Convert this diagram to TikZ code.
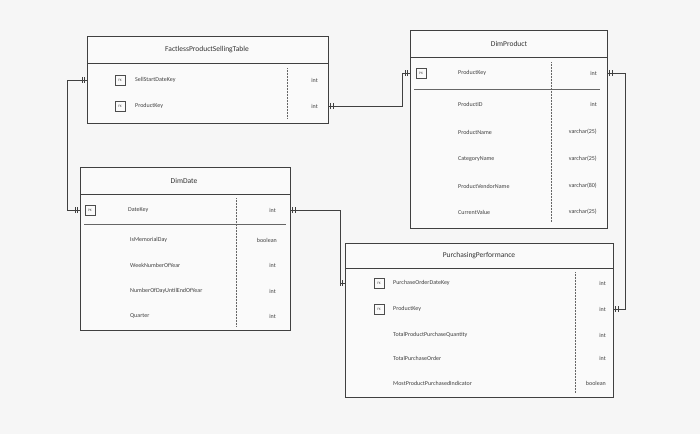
\documentclass[tikz,border=0pt]{standalone}
\usepackage{fontspec}
\setmainfont{Carlito}
\usetikzlibrary{decorations.markings}
\begin{document}
\begin{tikzpicture}[x=1pt,y=-1pt,
  box/.style={draw=black!75,line width=0.6pt},
  ttl/.style={font=\fontsize{7.5}{8}\selectfont,text=black!80},
  fld/.style={font=\fontsize{6}{7}\selectfont,text=black!75,anchor=west,inner sep=0pt},
  typ/.style={font=\fontsize{6}{7}\selectfont,text=black!75,anchor=east,inner sep=0pt},
  key/.style={draw=black!70,line width=0.4pt,font=\fontsize{3.5}{4}\selectfont,text=black!70,minimum width=10pt,minimum height=10pt,inner sep=0pt},
  div/.style={densely dotted,black!60,line width=0.5pt},
  sep/.style={black!60,line width=0.5pt},
  rel/.style={black!75,line width=0.6pt,postaction={decorate},decoration={markings,
    mark=at position 2.5pt with {\draw[line width=0.6pt] (0pt,-3pt) -- (0pt,3pt);},
    mark=at position 5pt with {\draw[line width=0.6pt] (0pt,-3pt) -- (0pt,3pt);},
    mark=at position -2.5pt with {\draw[line width=0.6pt] (0pt,-3pt) -- (0pt,3pt);},
    mark=at position -5pt with {\draw[line width=0.6pt] (0pt,-3pt) -- (0pt,3pt);}}}]
\fill[white!93!gray] (0,0) rectangle (700,434);
\useasboundingbox (0,0) rectangle (700,434);
% Factless
\draw[box,fill=white!96!gray] (87,36) rectangle (328,123);
\draw[box] (87,63) -- (328,63);
\node[ttl] (ft) at (207,50) {FactlessProductSellingTable};
\draw[div] (287,68) -- (287,119);
\node[key] (fk1) at (120,80) {FK};
\node[fld] (f1) at (135,80) {SellStartDateKey};
\node[typ] (f1t) at (318,80) {int};
\node[key] (fk2) at (120,106) {FK};
\node[fld] (f2) at (135,106) {ProductKey};
\node[typ] (f2t) at (318,106) {int};
\coordinate (fL) at (87,80); \coordinate (fR) at (328,106);
% DimProduct
\draw[box,fill=white!96!gray] (410,30) rectangle (607,228);
\draw[box] (410,57) -- (607,57);
\node[ttl] (pt) at (509,44) {DimProduct};
\draw[div] (551,62) -- (551,222);
\draw[sep] (414,89) -- (600,89);
\node[key] (pk1) at (421,73) {PK};
\node[fld] (p1) at (458,73) {ProductKey};
\node[typ] (p1t) at (597,73) {int};
\node[fld] (p2) at (458,104) {ProductID};
\node[typ] (p2t) at (597,104) {int};
\node[fld] (p3) at (458,132) {ProductName};
\node[typ] (p3t) at (597,132) {varchar(25)};
\node[fld] (p4) at (458,159) {CategoryName};
\node[typ] (p4t) at (597,159) {varchar(25)};
\node[fld] (p5) at (458,186) {ProductVendorName};
\node[typ] (p5t) at (597,186) {varchar(80)};
\node[fld] (p6) at (458,212) {CurrentValue};
\node[typ] (p6t) at (597,212) {varchar(25)};
\coordinate (pL) at (410,73); \coordinate (pR) at (607,73);
% DimDate
\draw[box,fill=white!96!gray] (80,167) rectangle (290,330);
\draw[box] (80,194) -- (290,194);
\node[ttl] (dt) at (184,181) {DimDate};
\draw[div] (236,198) -- (236,326);
\draw[sep] (84,224) -- (286,224);
\node[key] (dk1) at (90,210) {PK};
\node[fld] (d1) at (128,210) {DateKey};
\node[typ] (d1t) at (276,210) {int};
\node[fld] (d2) at (130,240) {IsMemorialDay};
\node[typ] (d2t) at (277,240) {boolean};
\node[fld] (d3) at (130,265) {WeekNumberOfYear};
\node[typ] (d3t) at (276,265) {int};
\node[fld] (d4) at (130,291) {NumberOfDayUntilEndOfYear};
\node[typ] (d4t) at (276,291) {int};
\node[fld] (d5) at (130,316) {Quarter};
\node[typ] (d5t) at (276,316) {int};
\coordinate (dL) at (80,210); \coordinate (dR) at (290,210);
% PurchasingPerformance
\draw[box,fill=white!96!gray] (345,243) rectangle (613,397);
\draw[box] (345,268) -- (613,268);
\node[ttl] (ppt) at (479,256) {PurchasingPerformance};
\draw[div] (575,272) -- (575,393);
\node[key] (ak1) at (379,283) {FK};
\node[fld] (a1) at (393,283) {PurchaseOrderDateKey};
\node[typ] (a1t) at (606,283) {int};
\node[key] (ak2) at (379,309) {FK};
\node[fld] (a2) at (393,309) {ProductKey};
\node[typ] (a2t) at (606,309) {int};
\node[fld] (a3) at (393,335) {TotalProductPurchaseQuantity};
\node[typ] (a3t) at (606,335) {int};
\node[fld] (a4) at (393,358) {TotalPurchaseOrder};
\node[typ] (a4t) at (606,358) {int};
\node[fld] (a5) at (393,383) {MostProductPurchasedIndicator};
\node[typ] (a5t) at (606,383) {boolean};
\coordinate (aL) at (345,283); \coordinate (aR) at (613,309);
% relations
\draw[rel] (fL) -- ++(-20,0) |- (dL);
\draw[rel] (fR) -- (402,106) |- (pL);
\draw[rel] (dR) -- (340,210) |- (aL);
\draw[rel] (pR) -- (625,73) |- (aR);
\end{tikzpicture}
\end{document}
